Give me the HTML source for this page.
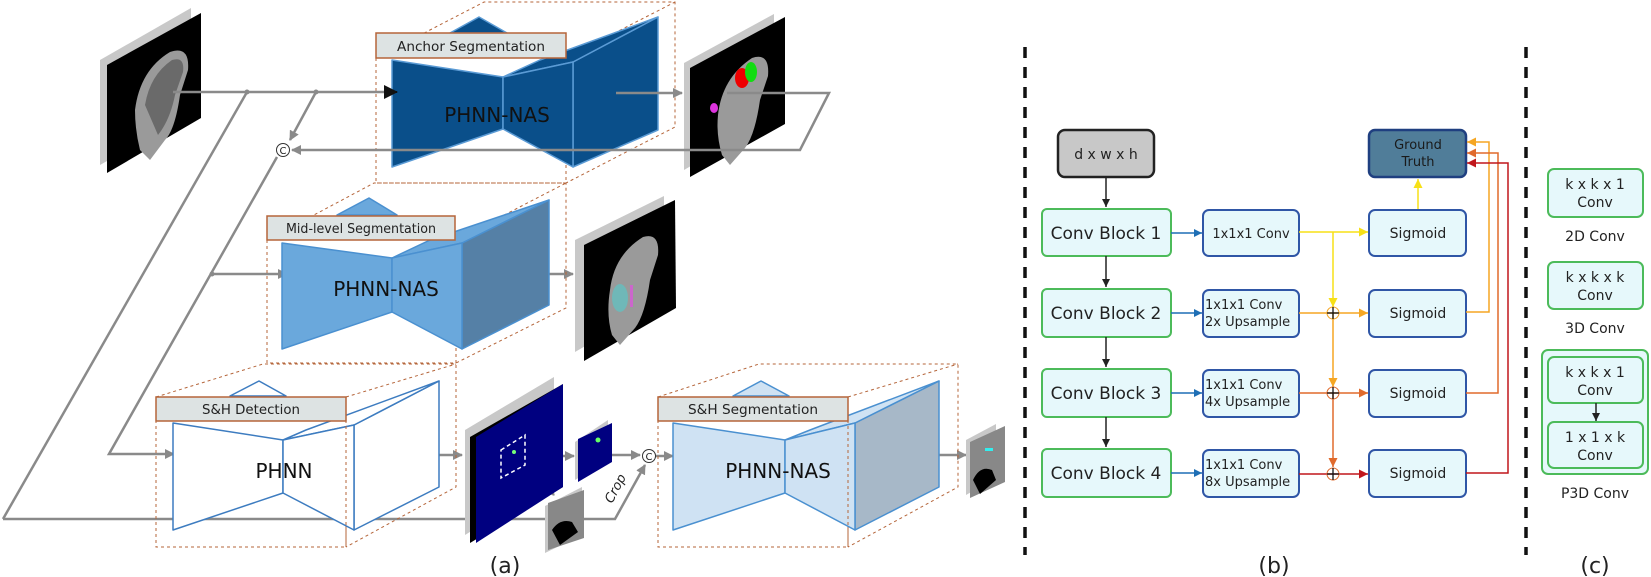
<!DOCTYPE html>
<html><head><meta charset="utf-8"><style>
html,body{margin:0;padding:0;background:#fff;}
svg{display:block;}
text{font-family:"DejaVu Sans","Liberation Sans",sans-serif;}
</style></head><body>
<svg width="1651" height="577" viewBox="0 0 1651 577" xmlns="http://www.w3.org/2000/svg">
<defs>
<marker id="ag" markerWidth="10" markerHeight="10" refX="9" refY="5" orient="auto" markerUnits="userSpaceOnUse"><path d="M0,0 L10,5 L0,10 z" fill="#8a8a8a"/></marker>
<marker id="ab" markerWidth="14" markerHeight="14" refX="13" refY="7" orient="auto" markerUnits="userSpaceOnUse"><path d="M0,0 L14,7 L0,14 z" fill="#111"/></marker>
<marker id="ak" markerWidth="8" markerHeight="8" refX="8" refY="4" orient="auto" markerUnits="userSpaceOnUse"><path d="M0,0 L8,4 L0,8 z" fill="#222"/></marker>
<marker id="abl" markerWidth="8" markerHeight="8" refX="8" refY="4" orient="auto" markerUnits="userSpaceOnUse"><path d="M0,0 L8,4 L0,8 z" fill="#1f6fb5"/></marker>
<marker id="ay" markerWidth="9" markerHeight="9" refX="9" refY="4.5" orient="auto" markerUnits="userSpaceOnUse"><path d="M0,0 L9,4.5 L0,9 z" fill="#f7e017"/></marker>
<marker id="ao" markerWidth="9" markerHeight="9" refX="9" refY="4.5" orient="auto" markerUnits="userSpaceOnUse"><path d="M0,0 L9,4.5 L0,9 z" fill="#f5a623"/></marker>
<marker id="ar" markerWidth="9" markerHeight="9" refX="9" refY="4.5" orient="auto" markerUnits="userSpaceOnUse"><path d="M0,0 L9,4.5 L0,9 z" fill="#e06a2c"/></marker>
<marker id="ad" markerWidth="9" markerHeight="9" refX="9" refY="4.5" orient="auto" markerUnits="userSpaceOnUse"><path d="M0,0 L9,4.5 L0,9 z" fill="#c0161b"/></marker>
</defs>

<!-- ============ PANEL A ============ -->
<polygon points="100,60 191,8 191,113 100,165" fill="#c8c8c8"/>
<polygon points="107,65 201,13 201,118 107,173" fill="#000"/>
<path d="M135,110 Q140,70 170,52 Q190,45 188,70 L180,95 Q175,130 165,140 L150,160 L140,150 Q135,130 135,110 Z" fill="#9a9a9a"/>
<path d="M145,105 Q150,75 172,60 Q185,56 183,72 L175,95 Q170,120 158,135 Z" fill="#6a6a6a"/>

<g stroke="#b5653a" stroke-width="1" stroke-dasharray="3,3" fill="none">
<polyline points="376,58 376,183 566,183 566,58"/>
<polyline points="376,58 484,2 675,2 675,127 566,183"/>
<line x1="566" y1="58" x2="675" y2="2"/>
</g>
<g fill="#0a4f8a" stroke="#5b9bd5" stroke-width="1.5" stroke-linejoin="round">
<polygon points="450,33 479,17 507,33"/>
<polygon points="573,62 658,17 658,130 573,167"/>
<polygon points="503,77 540,60 658,17 573,62"/>
<polygon points="392,60 503,77 503,129 392,167"/>
<polygon points="503,77 573,62 573,167 503,129"/>
</g>
<rect x="376" y="33" width="190" height="25" fill="#dde3e3" stroke="#b5653a" stroke-width="1.5"/>
<text x="471" y="51" font-size="13" text-anchor="middle" fill="#222" textLength="148" lengthAdjust="spacingAndGlyphs">Anchor Segmentation</text>
<text x="497" y="122" font-size="20" text-anchor="middle" fill="#111">PHNN-NAS</text>

<polygon points="684,63 774,14 774,118 684,170" fill="#c8c8c8"/>
<polygon points="690,68 785,17 785,124 690,177" fill="#000"/>
<path d="M718,115 Q722,78 752,58 Q770,52 768,76 L760,100 Q755,135 745,148 L730,165 L722,155 Q716,135 718,115 Z" fill="#9a9a9a"/>
<ellipse cx="742" cy="78" rx="7" ry="10" fill="#e00"/>
<ellipse cx="751" cy="72" rx="6" ry="10" fill="#1d1"/>
<ellipse cx="714" cy="108" rx="4" ry="5" fill="#d3d"/>

<g stroke="#8a8a8a" stroke-width="2.5" fill="none">
<line x1="173" y1="92" x2="385" y2="92"/>
<line x1="616" y1="93" x2="682" y2="93" marker-end="url(#ag)"/>
<polyline points="727,93 829,93 800,150 292,150" marker-end="url(#ag)"/>
<line x1="316" y1="92" x2="290" y2="140" marker-end="url(#ag)"/>
<line x1="247" y1="92" x2="3" y2="519"/>
<polyline points="277,157 109,454 174,454" marker-end="url(#ag)"/>
<line x1="212" y1="274" x2="287" y2="274" marker-end="url(#ag)"/>
<polyline points="3,519 615,519 645,465" marker-end="url(#ag)"/>
<line x1="506" y1="274" x2="573" y2="274" marker-end="url(#ag)"/>
<line x1="395" y1="455" x2="462" y2="455" marker-end="url(#ag)"/>
<line x1="514" y1="456" x2="574" y2="456" marker-end="url(#ag)"/>
<line x1="514" y1="456" x2="554" y2="495" marker-end="url(#ag)"/>
<line x1="600" y1="455" x2="640" y2="455" marker-end="url(#ag)"/>
<line x1="655" y1="456" x2="673" y2="456" marker-end="url(#ag)"/>
<line x1="900" y1="455" x2="966" y2="455" marker-end="url(#ag)"/>
</g>
<line x1="385" y1="92" x2="397" y2="92" stroke="#111" stroke-width="2" marker-end="url(#ab)"/>
<circle cx="247" cy="92" r="2.5" fill="#8a8a8a"/>
<circle cx="316" cy="92" r="2.5" fill="#8a8a8a"/>
<circle cx="212" cy="274" r="2.5" fill="#8a8a8a"/>
<circle cx="283" cy="150" r="6.5" fill="#fff" stroke="#333" stroke-width="1"/>
<text x="283" y="154" font-size="10" text-anchor="middle" fill="#222">C</text>

<g stroke="#b5653a" stroke-width="1" stroke-dasharray="3,3" fill="none">
<polyline points="267,240 267,363 456,363 456,240"/>
<polyline points="267,240 374,183 566,183 566,308 456,363"/>
<line x1="456" y1="240" x2="566" y2="183"/>
</g>
<g stroke="#4a90d0" stroke-width="1.5" stroke-linejoin="round">
<polygon points="337,215 369,198 397,215" fill="#6aa8dc"/>
<polygon points="462,243 549,200 549,305 462,349" fill="#5580a6"/>
<polygon points="392,258 430,240 549,200 462,243" fill="#6aa8dc"/>
<polygon points="282,243 392,258 392,312 282,349" fill="#6aa8dc"/>
<polygon points="392,258 462,243 462,349 392,312" fill="#6aa8dc"/>
</g>
<rect x="267" y="216" width="188" height="24" fill="#dde3e3" stroke="#b5653a" stroke-width="1.5"/>
<text x="361" y="233" font-size="13" text-anchor="middle" fill="#222" textLength="150" lengthAdjust="spacingAndGlyphs">Mid-level Segmentation</text>
<text x="386" y="296" font-size="20" text-anchor="middle" fill="#111">PHNN-NAS</text>

<polygon points="575,240 664,196 664,300 575,352" fill="#c8c8c8"/>
<polygon points="584,245 675,200 676,308 584,361" fill="#000"/>
<path d="M610,290 Q614,255 643,237 Q660,232 658,255 L650,280 Q645,315 635,328 L620,345 L612,335 Q606,315 610,290 Z" fill="#9a9a9a"/>
<ellipse cx="620" cy="298" rx="8" ry="14" fill="#6fb8b8"/>
<rect x="630" y="285" width="3" height="22" fill="#c6c"/>

<g stroke="#b5653a" stroke-width="1" stroke-dasharray="3,3" fill="none">
<polyline points="156,420 156,547 346,547 346,420"/>
<polyline points="156,397 263,364 456,364 456,487 346,547"/>
<line x1="346" y1="397" x2="456" y2="364"/>
</g>
<g fill="#fff" stroke="#3d7cc0" stroke-width="1.5" stroke-linejoin="round">
<polygon points="230,396 259,381 286,396"/>
<polygon points="354,425 439,381 439,487 354,530"/>
<polygon points="283,440 306,430 439,381 354,425"/>
<polygon points="173,423 283,440 283,493 173,530"/>
<polygon points="283,440 354,425 354,530 283,493"/>
</g>
<line x1="346" y1="420" x2="346" y2="547" stroke="#b5653a" stroke-dasharray="3,3"/>
<rect x="156" y="397" width="190" height="24" fill="#dde3e3" stroke="#b5653a" stroke-width="1.5"/>
<text x="251" y="414" font-size="13" text-anchor="middle" fill="#222" textLength="98" lengthAdjust="spacingAndGlyphs">S&amp;H Detection</text>
<text x="284" y="478" font-size="20" text-anchor="middle" fill="#111">PHNN</text>

<polygon points="465,430 554,377 554,480 465,535" fill="#c8c8c8"/>
<polygon points="470,437 563,384 563,487 470,543" fill="#000"/>
<polygon points="476,437 563,384 563,487 476,543" fill="#000080"/>
<polygon points="501,450 525,435 525,465 501,478" fill="none" stroke="#fff" stroke-width="1.5" stroke-dasharray="4,3"/>
<circle cx="514" cy="452" r="2" fill="#7f7"/>
<polygon points="575,442 608,420 608,460 575,480" fill="#c8c8c8"/>
<polygon points="578,439 612,423 612,462 578,482" fill="#000080"/>
<circle cx="598" cy="440" r="2.5" fill="#6f6"/>
<polygon points="545,506 582,487 582,535 545,553" fill="#c8c8c8"/>
<polygon points="548,503 584,490 584,538 548,550" fill="#888"/>
<path d="M552,530 Q560,518 572,522 L578,532 L560,545 Z" fill="#000"/>
<text x="0" y="0" font-size="13" font-style="italic" fill="#222" transform="translate(612,504) rotate(-62)">Crop</text>
<circle cx="649" cy="456" r="6.5" fill="#fff" stroke="#333" stroke-width="1"/>
<text x="649" y="460" font-size="10" text-anchor="middle" fill="#222">C</text>

<g stroke="#b5653a" stroke-width="1" stroke-dasharray="3,3" fill="none">
<polyline points="658,420 658,547 848,547 848,420"/>
<polyline points="658,397 759,364 958,364 958,487 848,547"/>
<line x1="848" y1="397" x2="958" y2="364"/>
</g>
<g stroke="#4a90d0" stroke-width="1.5" stroke-linejoin="round">
<polygon points="733,396 761,381 789,396" fill="#cfe2f3"/>
<polygon points="855,423 939,381 939,487 855,530" fill="#a7b8c8"/>
<polygon points="785,440 810,430 939,381 855,423" fill="#cfe2f3"/>
<polygon points="673,423 785,440 785,493 673,530" fill="#cfe2f3"/>
<polygon points="785,440 855,423 855,530 785,493" fill="#cfe2f3"/>
</g>
<line x1="848" y1="420" x2="848" y2="547" stroke="#b5653a" stroke-dasharray="3,3"/>
<rect x="658" y="397" width="190" height="24" fill="#dde3e3" stroke="#b5653a" stroke-width="1.5"/>
<text x="753" y="414" font-size="13" text-anchor="middle" fill="#222" textLength="130" lengthAdjust="spacingAndGlyphs">S&amp;H Segmentation</text>
<text x="778" y="478" font-size="20" text-anchor="middle" fill="#111">PHNN-NAS</text>

<polygon points="966,440 996,424 996,478 966,495" fill="#c8c8c8"/>
<polygon points="970,442 1005,426 1005,482 970,498" fill="#888"/>
<path d="M973,480 Q980,465 992,470 L996,480 L980,494 Z" fill="#000"/>
<rect x="985" y="448" width="8" height="3" fill="#3ee"/>

<text x="505" y="573" font-size="22" text-anchor="middle" fill="#222">(a)</text>

<!-- ============ PANEL B ============ -->
<line x1="1025" y1="47" x2="1025" y2="555" stroke="#111" stroke-width="3.5" stroke-dasharray="11,9"/>
<rect x="1058" y="130" width="96" height="47" rx="7" fill="#c8c8c8" stroke="#222" stroke-width="2.5"/>
<text x="1106" y="159" font-size="14" text-anchor="middle" fill="#222">d x w x h</text>

<g fill="#e6f8fb" stroke="#4cbb5a" stroke-width="2">
<rect x="1042" y="209" width="129" height="47" rx="5"/>
<rect x="1042" y="289" width="129" height="48" rx="5"/>
<rect x="1042" y="369" width="129" height="48" rx="5"/>
<rect x="1042" y="449" width="129" height="48" rx="5"/>
</g>
<g font-size="17" fill="#222" text-anchor="middle">
<text x="1106" y="239">Conv Block 1</text>
<text x="1106" y="319">Conv Block 2</text>
<text x="1106" y="399">Conv Block 3</text>
<text x="1106" y="479">Conv Block 4</text>
</g>
<g stroke="#222" stroke-width="1.5">
<line x1="1106" y1="177" x2="1106" y2="207" marker-end="url(#ak)"/>
<line x1="1106" y1="256" x2="1106" y2="287" marker-end="url(#ak)"/>
<line x1="1106" y1="337" x2="1106" y2="367" marker-end="url(#ak)"/>
<line x1="1106" y1="417" x2="1106" y2="447" marker-end="url(#ak)"/>
</g>
<g fill="#e6f8fb" stroke="#2f56a6" stroke-width="2">
<rect x="1203" y="210" width="96" height="46" rx="6"/>
<rect x="1203" y="290" width="96" height="47" rx="6"/>
<rect x="1203" y="370" width="96" height="47" rx="6"/>
<rect x="1203" y="450" width="96" height="47" rx="6"/>
<rect x="1369" y="210" width="97" height="46" rx="6"/>
<rect x="1369" y="290" width="97" height="47" rx="6"/>
<rect x="1369" y="370" width="97" height="47" rx="6"/>
<rect x="1369" y="450" width="97" height="47" rx="6"/>
</g>
<rect x="1369" y="130" width="97" height="47" rx="6" fill="#507d99" stroke="#1f3f80" stroke-width="2.5"/>
<text x="1418" y="149" font-size="13" text-anchor="middle" fill="#1a1a1a">Ground</text>
<text x="1418" y="166" font-size="13" text-anchor="middle" fill="#1a1a1a">Truth</text>
<g font-size="13" fill="#222">
<text x="1251" y="238" text-anchor="middle">1x1x1 Conv</text>
<text x="1205" y="309">1x1x1 Conv</text><text x="1205" y="326">2x Upsample</text>
<text x="1205" y="389">1x1x1 Conv</text><text x="1205" y="406">4x Upsample</text>
<text x="1205" y="469">1x1x1 Conv</text><text x="1205" y="486">8x Upsample</text>
</g>
<g font-size="14" fill="#222" text-anchor="middle">
<text x="1418" y="238">Sigmoid</text>
<text x="1418" y="318">Sigmoid</text>
<text x="1418" y="398">Sigmoid</text>
<text x="1418" y="478">Sigmoid</text>
</g>
<g stroke="#1f6fb5" stroke-width="1.5">
<line x1="1171" y1="233" x2="1202" y2="233" marker-end="url(#abl)"/>
<line x1="1171" y1="313" x2="1202" y2="313" marker-end="url(#abl)"/>
<line x1="1171" y1="393" x2="1202" y2="393" marker-end="url(#abl)"/>
<line x1="1171" y1="473" x2="1202" y2="473" marker-end="url(#abl)"/>
</g>
<g stroke-width="1.5" fill="none">
<line x1="1299" y1="232" x2="1368" y2="232" stroke="#f7e017" marker-end="url(#ay)"/>
<line x1="1333" y1="232" x2="1333" y2="307" stroke="#f7e017" marker-end="url(#ay)"/>
<line x1="1299" y1="313" x2="1368" y2="313" stroke="#f5a623" marker-end="url(#ao)"/>
<line x1="1333" y1="313" x2="1333" y2="387" stroke="#f5a623" marker-end="url(#ao)"/>
<line x1="1299" y1="393" x2="1368" y2="393" stroke="#e06a2c" marker-end="url(#ar)"/>
<line x1="1333" y1="393" x2="1333" y2="467" stroke="#e06a2c" marker-end="url(#ar)"/>
<line x1="1299" y1="474" x2="1368" y2="474" stroke="#c0161b" marker-end="url(#ad)"/>
<line x1="1418" y1="209" x2="1418" y2="179" stroke="#f7e017" marker-end="url(#ay)"/>
<polyline points="1466,312 1489,312 1489,142 1467,142" stroke="#f5a623" marker-end="url(#ao)"/>
<polyline points="1466,393 1498,393 1498,153 1467,153" stroke="#e06a2c" marker-end="url(#ar)"/>
<polyline points="1466,473 1508,473 1508,163 1467,163" stroke="#c0161b" marker-end="url(#ad)"/>
</g>
<g fill="none" stroke-width="1">
<circle cx="1333" cy="313" r="6" stroke="#f5a623"/>
<circle cx="1333" cy="393" r="6" stroke="#e06a2c"/>
<circle cx="1333" cy="474" r="6" stroke="#e06a2c"/>
</g>
<g stroke="#111" stroke-width="1.3">
<line x1="1327" y1="313" x2="1339" y2="313"/><line x1="1333" y1="307" x2="1333" y2="319"/>
<line x1="1327" y1="393" x2="1339" y2="393"/><line x1="1333" y1="387" x2="1333" y2="399"/>
<line x1="1327" y1="474" x2="1339" y2="474"/><line x1="1333" y1="468" x2="1333" y2="480"/>
</g>
<text x="1274" y="573" font-size="22" text-anchor="middle" fill="#222">(b)</text>

<!-- ============ PANEL C ============ -->
<line x1="1526" y1="47" x2="1526" y2="555" stroke="#111" stroke-width="3.5" stroke-dasharray="11,9"/>
<g fill="#e6f8fb" stroke="#4cbb5a" stroke-width="2">
<rect x="1548" y="169" width="95" height="48" rx="6"/>
<rect x="1548" y="262" width="95" height="47" rx="6"/>
<rect x="1542" y="350" width="106" height="124" rx="6"/>
<rect x="1548" y="357" width="95" height="46" rx="6"/>
<rect x="1548" y="422" width="95" height="46" rx="6"/>
</g>
<line x1="1596" y1="403" x2="1596" y2="421" stroke="#222" stroke-width="1.5" marker-end="url(#ak)"/>
<g font-size="14" fill="#222" text-anchor="middle">
<text x="1595" y="189">k x k x 1</text><text x="1595" y="207">Conv</text>
<text x="1595" y="241">2D Conv</text>
<text x="1595" y="282">k x k x k</text><text x="1595" y="300">Conv</text>
<text x="1595" y="333">3D Conv</text>
<text x="1595" y="377">k x k x 1</text><text x="1595" y="395">Conv</text>
<text x="1595" y="442">1 x 1 x k</text><text x="1595" y="460">Conv</text>
<text x="1595" y="498">P3D Conv</text>
</g>
<text x="1595" y="573" font-size="22" text-anchor="middle" fill="#222">(c)</text>
</svg>
</body></html>
